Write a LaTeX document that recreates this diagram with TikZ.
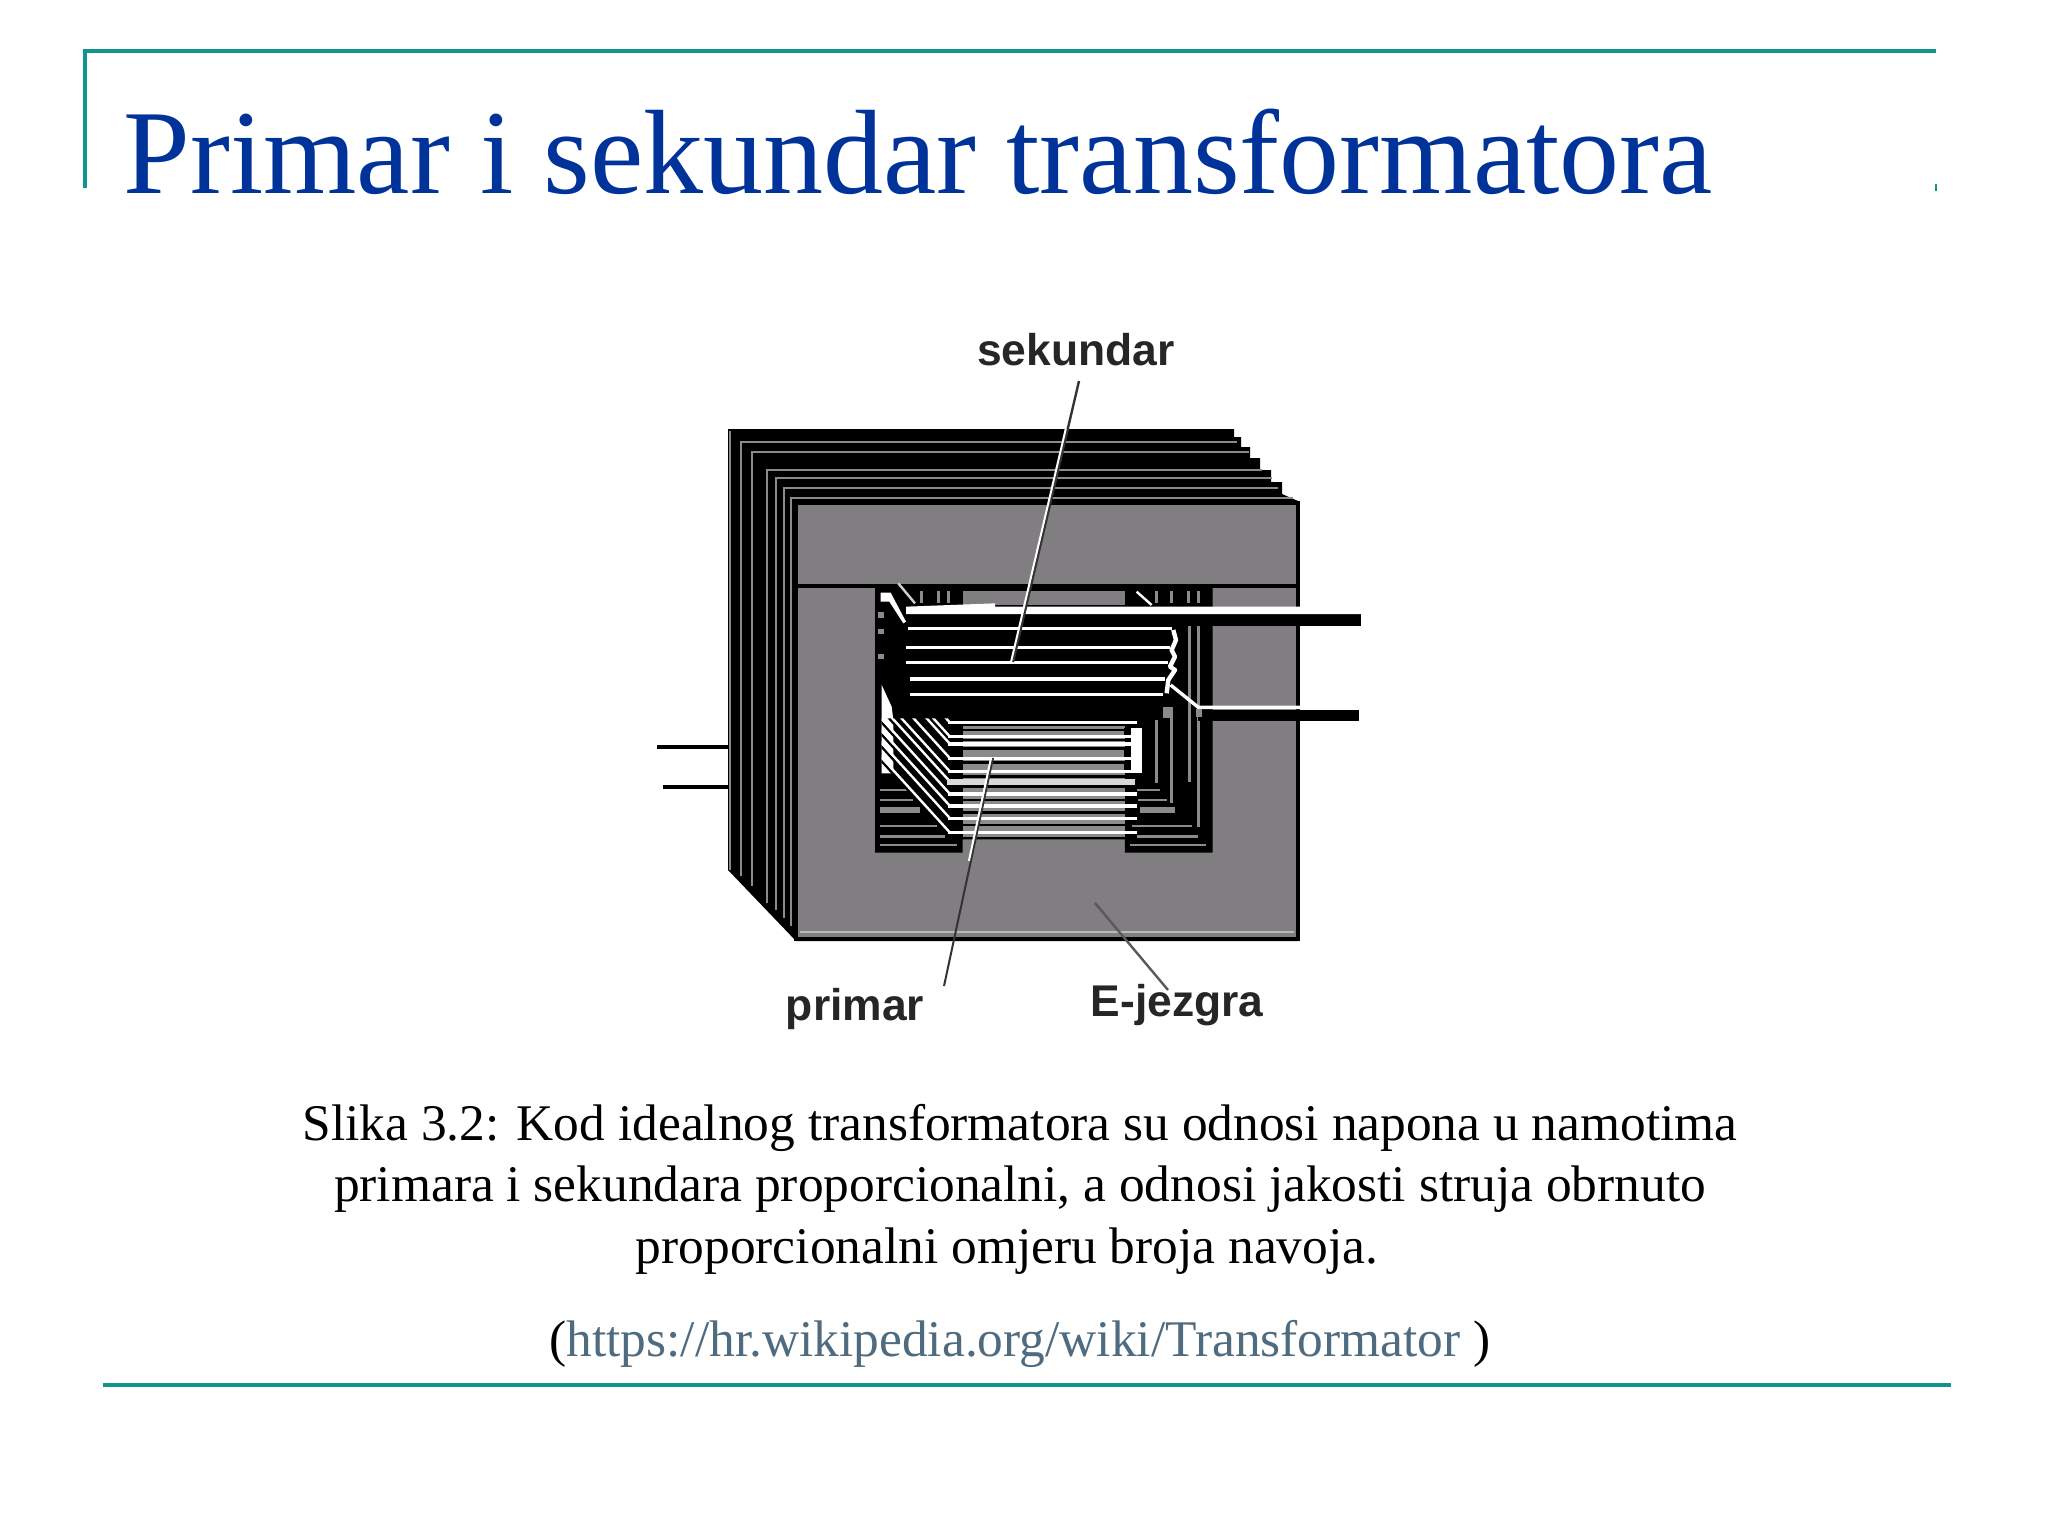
\documentclass[tikz,border=0pt]{standalone}
\usepackage{fontspec}
\setmainfont{Liberation Serif}
\newfontfamily\labelfont{Liberation Sans}
\definecolor{rulecolor}{HTML}{12948E}
\definecolor{titlecolor}{HTML}{003399}
\definecolor{linkcolor}{HTML}{4F6B80}
\definecolor{corecolor}{HTML}{807E80}
\definecolor{stripcolor}{HTML}{8C8A8C}
\tikzset{
  rule/.style={rulecolor,line width=2pt},
  lamina/.style={stripcolor,line width=1.3pt},
  wirewhite/.style={white,line width=1.7pt},
  backline/.style={stripcolor,line width=1.3pt},
  corelabel/.style={anchor=base,inner sep=0pt,font=\labelfont\bfseries\fontsize{22.2}{24}\selectfont,text=black!85},
  captionline/.style={anchor=base,inner sep=0pt,font=\fontsize{25.7}{28}\selectfont},
  pointer/.style={black!80,line width=1.2pt}
}
\begin{document}
\begin{tikzpicture}[x=0.5pt,y=0.5pt,yscale=-1,xscale=1]
  \useasboundingbox (0,0) rectangle (2048,1536);
  \fill[white] (0,0) rectangle (2048,1536);
  %Shape: slide rules
  \draw[rule] (85,188) -- (85,51) -- (1936,51);
  \draw[rulecolor,line width=0.8pt] (1936,184) -- (1936,191);
  \draw[rule] (103,1385) -- (1951,1385);

  % Text Node
  \draw (123,193) node (title) [anchor=base west,inner sep=0pt,text=titlecolor,font=\fontsize{60}{66}\selectfont] {Primar i sekundar transformatora};

  %Shape: lamination stack
  \fill[black] (728,429) -- (1234,429) -- (1234,437) -- (1241,437) -- (1241,447) -- (1250,447) -- (1250,458) -- (1260,458) -- (1260,470) -- (1271,470) -- (1271,482) -- (1282,482) -- (1282,494) -- (1298,501) -- (1298,941) -- (796,941) -- (728,870) -- cycle;
  \draw[lamina,line width=0.8pt] (730,870) -- (730,431);
  \foreach \xl/\yt/\xr/\yb in {741/442/1237/876, 752/452/1249/886, 767/470/1262/903, 776/478/1272/910, 784/488/1278/918, 791/498/1293/926}
    \draw[lamina] (\xl,\yb) -- (\xl,\yt) -- (\xr,\yt);

  %Shape: front of the core
  \fill[corecolor,draw=black,line width=2pt] (796,503) rectangle (1298,939);
  \draw[stripcolor!60!white,line width=1pt] (800,932) -- (1294,932);
  \draw[black,line width=2pt] (796,586) -- (1298,586);

  %Shape: leads of the primary
  \draw[black,line width=2.4pt] (657,747) -- (728,747);
  \draw[black,line width=2.4pt] (663,787) -- (728,787);

  %Shape: window with the windings
  \begin{scope}[shift={(840,570)},scale=0.3333]
    \fill[black] (105,50) -- (1118,50) -- (1118,848) -- (855,848) -- (855,808) -- (368,808) -- (368,848) -- (105,848) -- cycle;
    \fill[corecolor] (370,64) rectangle (855,104);
    % back lines
    \foreach \xa in {245,295,325,950,995,1045,1075}
      \draw[backline] (\xa,62) -- (\xa,100);
    \foreach \xa/\ya/\yb in {1048/165/635, 1075/165/770, 995/430/700, 950/450/640}
      \draw[backline] (\xa,\ya) -- (\xa,\yb);
    \foreach \ya/\xa/\xb in {660/120/205, 690/120/220, 768/120/290, 800/120/315, 825/120/350, 660/890/960, 690/895/980, 768/875/1055, 800/890/1075, 825/870/1098}
      \draw[backline] (\xa,\ya) -- (\xb,\ya);
    \draw[backline,line width=3pt] (120,720) -- (240,720);
    \draw[backline,line width=3pt] (900,720) -- (1005,720);
    % primary
    \fill[stripcolor] (370,468) rectangle (855,800);
    \fill[white] (872,475) rectangle (905,610);
    \foreach \ya in {480,510,535,578,620,650,690,728,765}
      \draw[black,line width=1.2pt] (370,\ya) -- (855,\ya);
    \foreach \xa/\ya in {857/485,857/550,857/590}
      \fill[black] (\xa-5,\ya-10) rectangle (\xa+5,\ya+10);
    \fill[white] (125,345) -- (155,410) -- (160,450) -- (160,610) -- (125,610) -- cycle;
    \begin{scope}
      \clip (125,445) -- (330,445) -- (330,795) -- (305,795) -- (125,590) -- cycle;
      \foreach \ya in {458,500,522,565,605,635,672,708,745,788,840,880,920}
        {\draw[black,line width=1.2pt] (330,\ya+11) -- ++(-240,-264);
         \draw[wirewhite,line width=1.2pt] (330,\ya) -- ++(-240,-264);}
    \end{scope}
    \foreach \ya in {458,500,522,565,605,672,708,745,788}
      \draw[wirewhite] (325,\ya) -- (890,\ya);
    \draw[white!70!gray,line width=3pt] (320,635) -- (885,635);
    % secondary
    \foreach \ya/\xa/\xb in {175/205/995, 232/198/990, 277/198/985, 327/210/975, 373/210/970}
      \draw[wirewhite] (\xa,\ya) -- (\xb,\ya);
    \draw[white,line width=2.2pt,line join=round] (1000,180) -- (1008,210) -- (995,240) -- (1005,260) -- (990,290) -- (1005,300) -- (985,330) -- (980,370);
    \foreach \ya in {135,185,260}
      \fill[stripcolor] (115,\ya-8) rectangle (133,\ya+8);
    \fill[white] (122,68) -- (152,68) -- (198,155) -- (190,160) -- (148,95) -- (122,95) -- cycle;
    \draw[stripcolor!40!white,line width=1.2pt] (175,40) -- (225,100);
    \draw[white,line width=1.2pt] (890,65) -- (935,105);
    % leads of the secondary
    \fill[black] (200,132) rectangle (1563,167);
    \fill[black] (1075,420) rectangle (1556,452);
    \fill[white] (198,110) -- (465,100) -- (465,110) -- (1563,110) -- (1563,132) -- (198,132) -- cycle;
    \draw[white,line width=1.7pt] (992,345) -- (1075,412) -- (1556,412);
    \fill[stripcolor] (970,412) rectangle (1000,445);
    \fill[stripcolor] (1068,416) rectangle (1085,442);
  \end{scope}

  % Text Node
  \draw (1076,365) node (sekundar) [corelabel] {sekundar};
  % Text Node
  \draw (855,1020) node (primar) [corelabel] {primar};
  % Text Node
  \draw (1177,1016) node (jezgra) [corelabel] {E-jezgra};

  %Shape: pointers to the parts
  \coordinate (sekundarfoot) at (1079,381);
  \coordinate (sekundartip) at (1013,662);
  \coordinate (primarfoot) at (944,986);
  \coordinate (primartip) at (993,758);
  \coordinate (jezgrafoot) at (1168,990);
  \coordinate (jezgratip) at (1095,903);
  \draw[pointer] (sekundarfoot) -- (sekundartip);
  \draw[pointer,line width=1pt] (primarfoot) -- (primartip);
  \draw[pointer,black!65] (jezgrafoot) -- (jezgratip);
  \begin{scope}
    \clip (700,429) rectangle (1300,860);
    \draw[white,line width=1pt] (1077,381) -- (1011,662);
    \draw[white,line width=1pt] (942,986) -- (991,758);
  \end{scope}

  % Text Node
  \draw (1020,1140) node (captiona) [captionline] {Slika 3.2: Kod idealnog transformatora su odnosi napona u namotima};
  % Text Node
  \draw (1020,1201) node (captionb) [captionline] {primara i sekundara proporcionalni, a odnosi jakosti struja obrnuto};
  % Text Node
  \draw (1007,1263) node (captionc) [captionline] {proporcionalni omjeru broja navoja.};
  % Text Node
  \draw (1020,1356) node (source) [captionline] {(\textcolor{linkcolor}{https://hr.wikipedia.org/wiki/Transformator} )};
\end{tikzpicture}
\end{document}
